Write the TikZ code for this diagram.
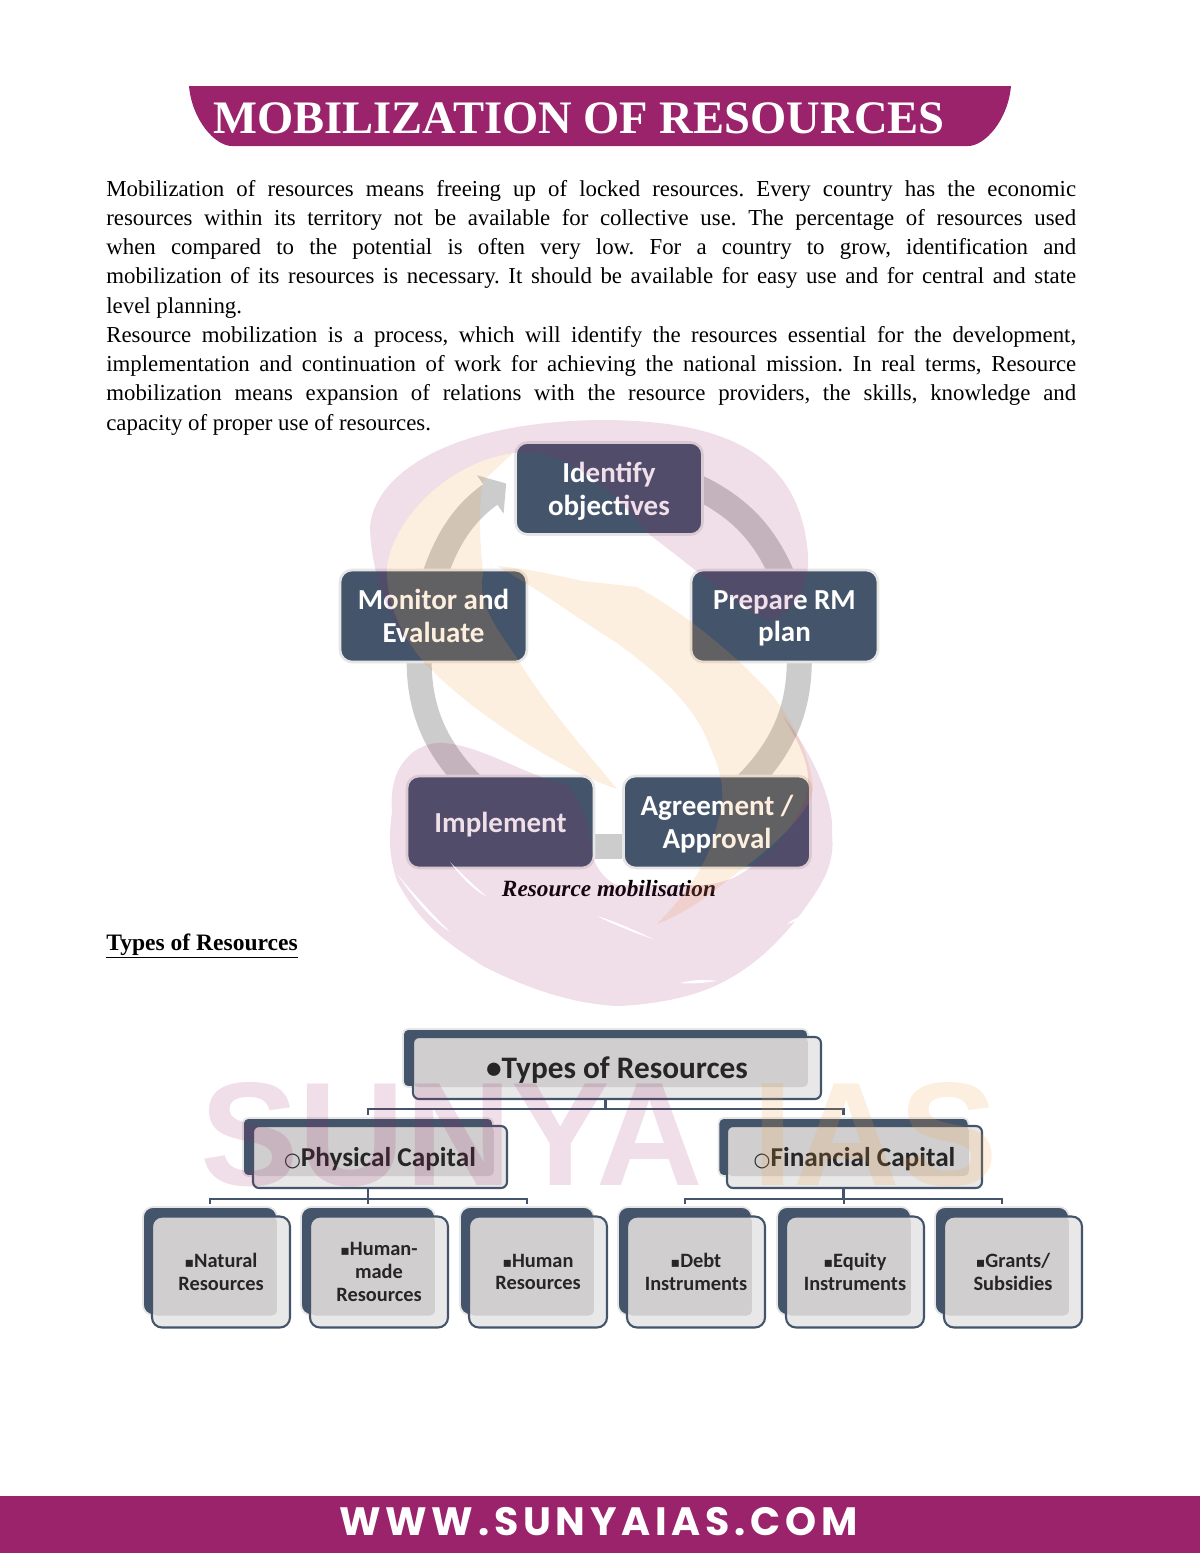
\documentclass[tikz,border=0pt]{standalone}
\usepackage{fontspec}
\usepackage{tikz}
\usetikzlibrary{arrows.meta,backgrounds}
\setmainfont{Liberation Serif}
\newfontfamily\boxfont{Carlito}
\newfontfamily\markfont{Liberation Sans}
\newfontfamily\bulletfont{DejaVu Sans}
\newfontfamily\webfont[LetterSpace=12]{Poppins}
\frenchspacing
\definecolor{plum}{HTML}{9B236C}
\definecolor{boxblue}{HTML}{44546A}
\definecolor{panelgray}{HTML}{D0CECE}
\definecolor{frontgray}{HTML}{E9E8E8}
\definecolor{halogray}{HTML}{E6E6E6}
\definecolor{ringgray}{HTML}{CCCCCC}
\definecolor{markorange}{HTML}{F5A040}
\newcommand{\leafmark}{{\bulletfont\fontsize{8}{8}\selectfont\char"25AA}}
\newcommand{\ringmark}{{\bulletfont\fontsize{11}{11}\selectfont\char"25CB}}
\tikzset{
  bodyline/.style={anchor=base west,inner sep=0pt,font=\fontsize{13}{15}\selectfont},
  cyclebox/.style={rounded corners=0.24cm,fill=boxblue,draw=halogray,line width=1.5pt,text=white,
    font=\boxfont\bfseries\fontsize{16.5}{18.6}\selectfont,align=center,inner sep=0pt,text depth=0pt,
    minimum width=3.74cm,minimum height=1.84cm},
  ringline/.style={draw=ringgray,line width=0.5cm},
  backbox/.style={fill=boxblue,draw=halogray,line width=1pt,rounded corners=0.1cm,inner sep=0pt},
  frontbox/.style={fill=frontgray,draw=boxblue,line width=1.2pt,rounded corners=0.12cm,inner sep=0pt,
    align=center,text=black!85,
    path picture={\fill[panelgray,rounded corners=0.1cm] (path picture bounding box.north west)
      rectangle ([shift={(-13,-12)}]path picture bounding box.south east);}},
  rootfont/.style={font=\boxfont\bfseries\fontsize{17.8}{20}\selectfont,text depth=0pt},
  midfont/.style={font=\boxfont\bfseries\fontsize{15.5}{18}\selectfont,text depth=0pt},
  leaffont/.style={font=\boxfont\bfseries\fontsize{11.6}{13}\selectfont},
  treeline/.style={draw=boxblue,line width=1.4pt,shorten >=1.5pt},
  pinkmark/.style={fill=plum,fill opacity=0.15,text=plum,text opacity=0.15},
  orangemark/.style={fill=markorange,fill opacity=0.17,text=markorange,text opacity=0.17},
  markstreak/.style={fill=white}
}
\begin{document}
\begin{tikzpicture}[x=0.02cm,y=-0.02cm]
\useasboundingbox (0,0) rectangle (1200,1553);

\fill[plum] (189,86) -- (1011,86) .. controls (1008,120) and (985,146) .. (968,146)
  -- (232,146) .. controls (215,146) and (192,120) .. (189,86) -- cycle;
\node[anchor=base west,inner sep=0pt,text=white,font=\bfseries\fontsize{26.5}{28}\selectfont] (title) at (213,133) {MOBILIZATION OF RESOURCES};

\foreach \y/\txt in {196/{Mobilization of resources means freeing up of locked resources. Every country has the economic},
  225/{resources within its territory not be available for collective use. The percentage of resources used},
  254/{when compared to the potential is often very low. For a country to grow, identification and},
  283/{mobilization of its resources is necessary. It should be available for easy use and for central and state},
  342/{Resource mobilization is a process, which will identify the resources essential for the development,},
  371/{implementation and continuation of work for achieving the national mission. In real terms, Resource},
  400/{mobilization means expansion of relations with the resource providers, the skills, knowledge and}}
  \node[bodyline] (line\y) at (106,\y) {\makebox[19.4cm][s]{\txt}};
\node[bodyline] (line313) at (106,313) {level planning.};
\node[bodyline] (line430) at (106,430) {capacity of proper use of resources.};

\node[cyclebox] (identify) at (609,488.5) {Identify\\objectives};
\node[cyclebox] (monitor) at (433.5,616) {Monitor and\\Evaluate};
\node[cyclebox] (prepare) at (784.5,616) {Prepare RM\\plan};
\node[cyclebox] (implement) at (500.5,822) {Implement};
\node[cyclebox] (agreement) at (717,822) {Agreement /\\Approval};
\begin{scope}[on background layer]
  \draw[ringline] ([shift={(-16,-6)}]identify.east) to[bend left=23] ([shift={(3,20)}]prepare.north);
  \draw[ringline] ([shift={(14,-24)}]prepare.south) to[bend left=25] ([shift={(26,13)}]agreement.north);
  \draw[ringline] ([shift={(0,24)}]agreement.west) -- ([shift={(0,24)}]implement.east);
  \draw[ringline] ([shift={(-25.5,13)}]implement.north) to[bend left=25] ([shift={(-13.5,-24)}]monitor.south);
  \draw[ringline,-{Triangle[width=26pt,length=11pt]}] ([shift={(-3,20)}]monitor.north) to[bend left=19.6] ([shift={(-8,-5)}]identify.west);
\end{scope}

\node[anchor=base,inner sep=0pt,font=\bfseries\itshape\fontsize{13.25}{15}\selectfont] (caption) at (609,896) {Resource mobilisation};
\node[anchor=base west,inner sep=0pt,font=\bfseries\fontsize{13.4}{15}\selectfont] (typeshead) at (106,950) {\underline{Types of Resources}};

\node[backbox,minimum width=8.1cm,minimum height=1.16cm] (rootback) at (605.5,1058) {};
\node[backbox,minimum width=5cm,minimum height=1.16cm] (physicalback) at (368,1147) {};
\node[backbox,minimum width=5cm,minimum height=1.16cm] (financialback) at (843.5,1147) {};
\foreach \x/\name in {210/natural,368/humanmade,527/human,685/debt,844/equity,1002/grants}
  \node[backbox,rounded corners=0.2cm,minimum width=2.68cm,minimum height=2.16cm] (\name back) at (\x,1261) {};

\begin{scope}[on background layer]
  \draw[treeline] (rootback.south) -- ++(0,21) -| (physicalback.north);
  \draw[treeline] (rootback.south) -- ++(0,21) -| (financialback.north);
  \foreach \name in {natural,humanmade,human}
    \draw[treeline] (physicalback.south) -- ++(0,22) -| (\name back.north);
  \foreach \name in {debt,equity,grants}
    \draw[treeline] (financialback.south) -- ++(0,22) -| (\name back.north);
\end{scope}

\node[frontbox,rootfont,minimum width=8.16cm,minimum height=1.24cm] (root) at (617,1068) {\textbullet Types of Resources};
\node[frontbox,midfont,minimum width=5.08cm,minimum height=1.24cm] (physical) at (380,1157) {\ringmark Physical Capital};
\node[frontbox,midfont,minimum width=5.1cm,minimum height=1.24cm] (financial) at (854.5,1157) {\ringmark Financial Capital};
\foreach \x/\name/\txt in {221/natural/{\leafmark Natural\\Resources},
  379/humanmade/{\leafmark Human-\\made\\Resources},
  538/human/{\leafmark Human\\Resources},
  696/debt/{\leafmark Debt\\Instruments},
  855/equity/{\leafmark Equity\\Instruments},
  1013/grants/{\leafmark Grants/\\Subsidies}}
  \node[frontbox,leaffont,rounded corners=0.2cm,minimum width=2.76cm,minimum height=2.22cm] (\name) at (\x,1272) {\txt};

\fill[plum] (0,1496) rectangle (1200,1553);
\node[anchor=base,inner sep=0pt,text=white,font=\webfont\bfseries\fontsize{22.5}{25}\selectfont] (website) at (598.5,1535) {WWW.SUNYAIAS.COM};

\path[pinkmark] (370,528) .. controls (372,480) and (440,422) .. (600,420)
  .. controls (720,420) and (800,450) .. (808,555) .. controls (810,590) and (790,618) .. (767,620)
  .. controls (730,600) and (690,565) .. (650,535) .. controls (620,500) and (570,445) .. (513,453)
  .. controls (450,462) and (395,515) .. (387,566) .. controls (385,610) and (410,650) .. (432,670)
  .. controls (400,640) and (372,590) .. (370,528) -- cycle;
\path[orangemark] (513,453) .. controls (450,462) and (395,515) .. (387,566)
  .. controls (385,610) and (410,650) .. (432,670) .. controls (470,710) and (560,770) .. (617,789)
  .. controls (585,750) and (545,705) .. (517,658) .. controls (490,620) and (478,600) .. (483,574)
  .. controls (480,540) and (478,510) .. (483,481) -- cycle;
\path[orangemark] (497,566) .. controls (540,590) and (580,620) .. (617,643)
  .. controls (660,675) and (695,705) .. (710,747) .. controls (725,780) and (725,800) .. (717,824)
  .. controls (710,860) and (690,890) .. (657,924) .. controls (680,915) and (705,900) .. (730,878)
  .. controls (770,850) and (815,810) .. (813,785) .. controls (808,750) and (790,715) .. (767,689)
  .. controls (730,650) and (680,610) .. (637,587) -- (583,581) .. controls (555,575) and (525,568) .. (497,566) -- cycle;
\path[pinkmark] (407,758) .. controls (395,770) and (390,790) .. (392,812)
  .. controls (388,840) and (390,860) .. (397,881) .. controls (420,925) and (450,945) .. (483,966)
  .. controls (530,990) and (575,1004) .. (617,1006) .. controls (650,1005) and (690,998) .. (717,985)
  .. controls (760,965) and (790,930) .. (810,901) .. controls (825,880) and (835,860) .. (832,835)
  .. controls (835,800) and (810,750) .. (783,716) .. controls (800,745) and (815,770) .. (805,800)
  .. controls (790,835) and (760,865) .. (733,878) .. controls (715,885) and (700,886) .. (683,885)
  -- (617,885) .. controls (605,880) and (598,870) .. (593,858) .. controls (590,830) and (585,805) .. (567,785)
  .. controls (525,775) and (480,745) .. (443,743) .. controls (430,742) and (415,748) .. (407,758) -- cycle;
\fill[markstreak] (747,435) .. controls (775,448) and (795,468) .. (807,493) .. controls (790,475) and (770,455) .. (747,435) -- cycle;
\fill[markstreak] (393,455) .. controls (402,447) and (412,441) .. (423,439) .. controls (413,445) and (403,451) .. (393,455) -- cycle;
\fill[markstreak] (397,874) .. controls (415,900) and (432,920) .. (450,932) .. controls (430,912) and (412,892) .. (397,874) -- cycle;
\fill[markstreak] (450,862) .. controls (462,878) and (474,890) .. (487,897) .. controls (472,884) and (460,872) .. (450,862) -- cycle;
\fill[markstreak] (597,916) .. controls (615,925) and (635,933) .. (653,939) .. controls (632,929) and (614,921) .. (597,916) -- cycle;
\fill[markstreak] (787,924) .. controls (792,920) and (798,917) .. (803,916) .. controls (798,920) and (792,923) .. (787,924) -- cycle;
\fill[markstreak] (680,983) .. controls (692,980) and (705,979) .. (717,981) .. controls (705,983) and (692,984) .. (680,983) -- cycle;
\node[pinkmark,fill=none,anchor=base west,inner sep=0pt,font=\markfont\bfseries\fontsize{84}{90}\selectfont] (marksunya) at (200,1185) {SUNYA};
\node[orangemark,fill=none,anchor=base west,inner sep=0pt,font=\markfont\bfseries\fontsize{84}{90}\selectfont] (markias) at (752,1185) {IAS};
\end{tikzpicture}
\end{document}
